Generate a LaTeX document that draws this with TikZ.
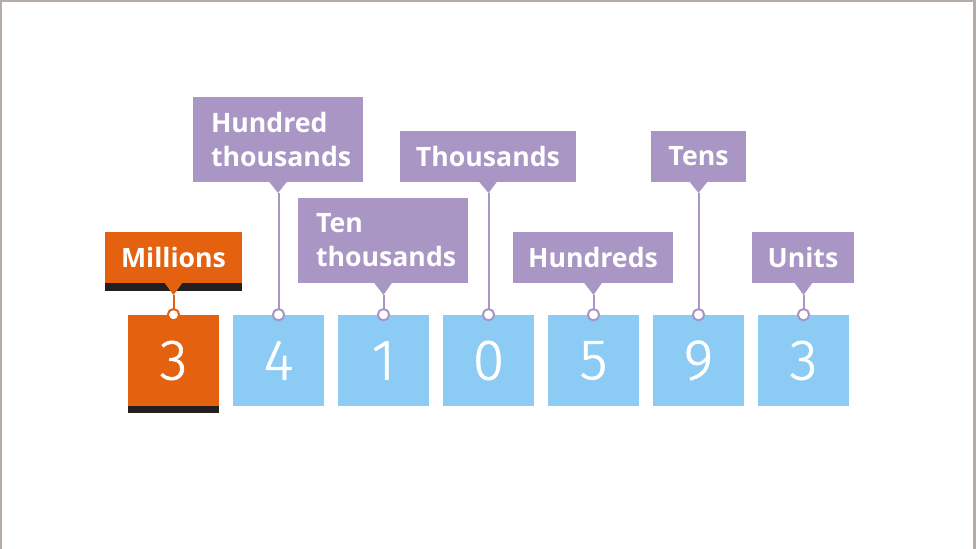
\documentclass[tikz,border=0pt]{standalone}
\usepackage{fontspec}
\setmainfont{Open Sans}
\newfontfamily\digitfont[FakeBold=1]{Fira Sans Light}
\definecolor{orng}{HTML}{E4610F}
\definecolor{lblue}{HTML}{8CCBF4}
\definecolor{purp}{HTML}{A996C4}
\definecolor{blk}{HTML}{231F20}
\definecolor{frame}{HTML}{B5ADA5}
\begin{document}
\begin{tikzpicture}[x=0.75pt,y=-0.75pt,
  digitbox/.style={minimum width=68.25pt,minimum height=68.25pt,inner sep=0pt,text=white,font=\digitfont\fontsize{43}{43}\selectfont},
  lbl/.style={fill=purp,text=white,inner sep=0pt,font=\bfseries\fontsize{20}{25.5}\selectfont},
  pin/.style={circle,draw=purp,fill=white,line width=1.5pt,minimum size=8.5pt,inner sep=0pt},
  stem/.style={draw=purp,line width=1.5pt}]
\useasboundingbox (0,0) rectangle (976,549);
\fill[white] (0,0) rectangle (976,549);
\draw[frame,line width=1.8pt] (1,549) -- (1,1) -- (974.5,1) -- (974.5,549);
% digit boxes
\fill[blk] (128,400) rectangle (219,413);
\node[digitbox,fill=orng] (d1) at (173.5,360.5) {3};
\node[digitbox,fill=lblue] (d2) at (278.5,360.5) {4};
\node[digitbox,fill=lblue] (d3) at (383.5,360.5) {1};
\node[digitbox,fill=lblue] (d4) at (488.5,360.5) {0};
\node[digitbox,fill=lblue] (d5) at (593.5,360.5) {5};
\node[digitbox,fill=lblue] (d6) at (698.5,360.5) {9};
\node[digitbox,fill=lblue] (d7) at (803.5,360.5) {3};
% Millions label
\fill[blk] (105,280) rectangle (242,291);
\node[lbl,fill=orng,minimum width=102.75pt,minimum height=38.25pt] (l1) at (173.5,257.5) {Millions};
\fill[orng] (164,282) -- (183,282) -- (173.5,295) -- cycle;
\coordinate (t1) at (173.5,295);
\draw[orng,line width=1.5pt] (t1) -- (d1.north);
\node[circle,draw=orng,fill=white,line width=1.5pt,minimum size=8.5pt,inner sep=0pt] (c1) at (d1.north) {};
% Hundred thousands
\node[lbl,minimum width=127.5pt,minimum height=63.75pt,text width=100.5pt,align=left] (l2) at (278,139.5) {Hundred\\thousands};
\fill[purp] (268.5,181) -- (287.5,181) -- (278,193) -- cycle;
\coordinate (t2) at (278.5,193);
% Ten thousands
\node[lbl,minimum width=127.5pt,minimum height=63.75pt,text width=100.5pt,align=left] (l3) at (383,240.5) {Ten\\thousands};
\fill[purp] (373.5,282) -- (392.5,282) -- (383.5,295) -- cycle;
\coordinate (t3) at (383.5,295);
% Thousands
\node[lbl,minimum width=132pt,minimum height=38.25pt] (l4) at (488,156.5) {Thousands};
\fill[purp] (478.5,181) -- (497.5,181) -- (488.5,193) -- cycle;
\coordinate (t4) at (488.5,193);
% Hundreds
\node[lbl,minimum width=120pt,minimum height=38.25pt] (l5) at (593,257.5) {Hundreds};
\fill[purp] (583.5,282) -- (602.5,282) -- (593.5,295) -- cycle;
\coordinate (t5) at (593.5,295);
% Tens
\node[lbl,minimum width=71.25pt,minimum height=38.25pt] (l6) at (698.5,156.5) {Tens};
\fill[purp] (689,181) -- (708,181) -- (698.5,193) -- cycle;
\coordinate (t6) at (698.5,193);
% Units
\node[lbl,minimum width=76.5pt,minimum height=38.25pt] (l7) at (803,257.5) {Units};
\fill[purp] (794,282) -- (813,282) -- (803.5,295) -- cycle;
\coordinate (t7) at (803.5,295);
% stems and pins
\foreach \i in {2,...,7}{
  \draw[stem] (t\i) -- (d\i.north);
  \node[pin] (c\i) at (d\i.north) {};
}
\end{tikzpicture}
\end{document}
